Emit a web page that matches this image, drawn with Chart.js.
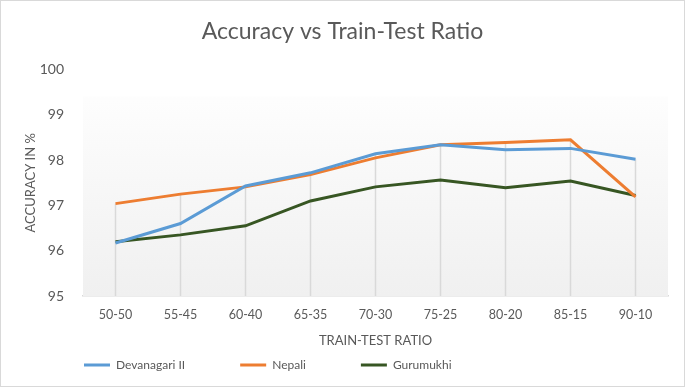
<!DOCTYPE html>
<html>
<head>
<meta charset="utf-8">
<script src="https://cdn.jsdelivr.net/npm/chart.js@4"></script>
<style>
  body { margin: 0; background: #fff; }
  #wrap { width: 683px; height: 385px; border: 1px solid #d9d9d9; }
</style>
</head>
<body>
<div id="wrap"><canvas id="accChart" width="683" height="385"></canvas></div>
<script>
    // data
    const ratios = ['50-50', '55-45', '60-40', '65-35', '70-30', '75-25', '80-20', '85-15', '90-10'];
    const devanagari = [96.17, 96.6, 97.43, 97.72, 98.14, 98.34, 98.23, 98.26, 98.02];
    const nepali = [97.04, 97.25, 97.41, 97.68, 98.05, 98.34, 98.39, 98.45, 97.19];
    const gurumukhi = [96.2, 96.35, 96.55, 97.1, 97.41, 97.56, 97.39, 97.54, 97.22];
    const yTicks = [95, 96, 97, 98, 99, 100];

    const grey = '#595959';
    const font = 'Lato';

    // plot area gradient + drop lines (excel style)
    const plotDeco = {
        id: 'plotDeco',
        beforeDatasetsDraw(chart) {
            const { ctx, chartArea: a, scales } = chart;
            const g = ctx.createLinearGradient(0, a.top, 0, a.bottom);
            g.addColorStop(0, '#ffffff');
            g.addColorStop(1, '#f0f0f0');
            ctx.save();
            ctx.fillStyle = g;
            ctx.fillRect(a.left, a.top + 27, a.right - a.left, a.bottom - a.top - 27);
            ctx.strokeStyle = '#d9d9d9';
            ctx.lineWidth = 1.5;
            ratios.forEach((r, i) => {
                const top = Math.max(...chart.data.datasets.map(d => d.data[i]));
                const x = scales.x.getPixelForValue(i);
                ctx.beginPath();
                ctx.moveTo(x, scales.y.getPixelForValue(top));
                ctx.lineTo(x, a.bottom);
                ctx.stroke();
            });
            ctx.restore();
        },
        afterLayout(chart) {
            // legend sits lower-left like excel does, title a bit right
            chart.legend.left += 28;
            chart.legend.top -= 52;
            chart.titleBlock.left += 8;
            chart.titleBlock.right += 8;
        }
    };

    const ctx = document.getElementById('accChart').getContext('2d');
    const accChart = new Chart(ctx, {
        type: 'line',
        data: {
            labels: ratios,
            datasets: [
                { label: 'Devanagari II', data: devanagari, borderColor: '#5b9bd5', backgroundColor: '#5b9bd5', borderWidth: 3 },
                { label: 'Nepali', data: nepali, borderColor: '#ed7d31', backgroundColor: '#ed7d31', borderWidth: 3 },
                { label: 'Gurumukhi', data: gurumukhi, borderColor: '#375623', backgroundColor: '#375623', borderWidth: 3 }
            ]
        },
        options: {
            responsive: false,
            animation: false,
            layout: { padding: { left: 0, right: 16, top: 0, bottom: 0 } },
            elements: {
                line: { tension: 0 },
                point: { radius: 0 }
            },
            plugins: {
                title: {
                    display: true,
                    text: 'Accuracy vs Train-Test Ratio',
                    color: grey,
                    font: { family: font, size: 23, weight: 'normal' },
                    padding: { top: 17, bottom: 24 }
                },
                legend: {
                    position: 'bottom',
                    align: 'start',
                    maxHeight: 30,
                    labels: {
                        usePointStyle: true,
                        pointStyle: 'line',
                        pointStyleWidth: 26,
                        padding: 55,
                        color: grey,
                        font: { family: font, size: 12 }
                    }
                },
                tooltip: { enabled: false }
            },
            scales: {
                x: {
                    offset: true,
                    grid: { display: false, drawTicks: false },
                    border: { display: true, color: '#d9d9d9', width: 1.5 },
                    ticks: { color: grey, font: { family: font, size: 12.5 }, padding: 11 },
                    title: {
                        display: true,
                        text: 'TRAIN-TEST RATIO',
                        color: grey,
                        font: { family: font, size: 13 },
                        padding: { top: 4, bottom: 7 }
                    },
                    afterFit(scale) { scale.height = 60; }
                },
                y: {
                    min: 95,
                    max: 100,
                    afterBuildTicks(scale) { scale.ticks = yTicks.map(v => ({ value: v })); },
                    grid: { display: false, drawTicks: false },
                    border: { display: false },
                    ticks: { color: grey, font: { family: font, size: 14 }, padding: 19 },
                    title: {
                        display: true,
                        text: 'ACCURACY IN %',
                        color: grey,
                        font: { family: font, size: 13 },
                        padding: { top: 22, bottom: 0 }
                    },
                    afterFit(scale) { scale.width = 82; }
                }
            }
        },
        plugins: [plotDeco]
    });
</script>
</body>
</html>
